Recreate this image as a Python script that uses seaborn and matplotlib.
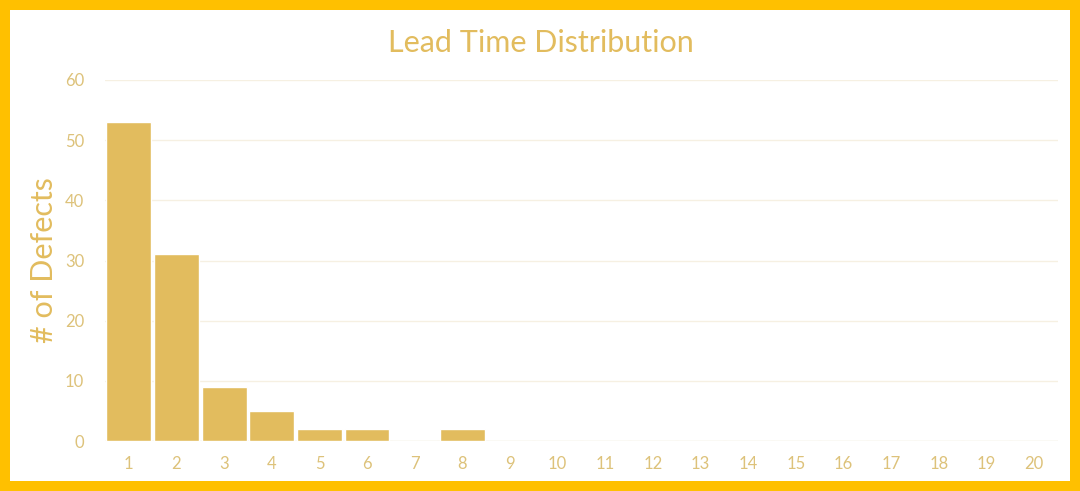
import matplotlib
matplotlib.use("Agg")
import matplotlib.pyplot as plt
import seaborn as sns
import pandas as pd
from matplotlib.patches import Rectangle

# 데이터
lead_time = [str(i) for i in range(1, 21)]
defects = [53, 31, 9, 5, 2, 2, 0, 2, 0, 0, 0, 0, 0, 0, 0, 0, 0, 0, 0, 0]
y_ticks = [0, 10, 20, 30, 40, 50, 60]

bar_color = "#E2BC5E"
text_color = "#DDC27A"
border_color = "#FFC000"

df = pd.DataFrame({"lead_time": lead_time, "defects": defects})

sns.set_theme(style="white")
plt.rcParams["font.family"] = ["Lato", "DejaVu Sans"]

fig = plt.figure(figsize=(10.8, 4.91), dpi=100)
fig.patch.set_facecolor(border_color)
# 안쪽 흰 배경
fig.add_artist(Rectangle((10 / 1080, 10 / 491), 1060 / 1080, 471 / 491,
                         transform=fig.transFigure, facecolor="white",
                         edgecolor="none", zorder=0))

ax = fig.add_axes([105 / 1080, 50 / 491, 953 / 1080, 361 / 491])
ax.set_facecolor("none")

sns.barplot(data=df, x="lead_time", y="defects", color=bar_color,
            width=0.94, saturation=1, ax=ax, zorder=3)

ax.set_ylim(0, 60)
ax.set_yticks(y_ticks)
ax.yaxis.grid(True, color="#F6F0E2", linewidth=1, zorder=0)
for s in ax.spines.values():
    s.set_visible(False)
ax.axhline(0, color="#F2EAD8", linewidth=1, zorder=2)

ax.tick_params(axis="both", colors=text_color, labelsize=12, length=0)
ax.tick_params(axis="x", pad=11)
ax.tick_params(axis="y", pad=15)

ax.set_xlabel("")
ax.set_ylabel("# of Defects", color=bar_color, fontsize=22, labelpad=5)
fig.text(541 / 1080, 1 - 43 / 491, "Lead Time Distribution", ha="center",
         va="center", color=bar_color, fontsize=22)

fig.savefig("out.png", dpi=100, facecolor=fig.get_facecolor())
